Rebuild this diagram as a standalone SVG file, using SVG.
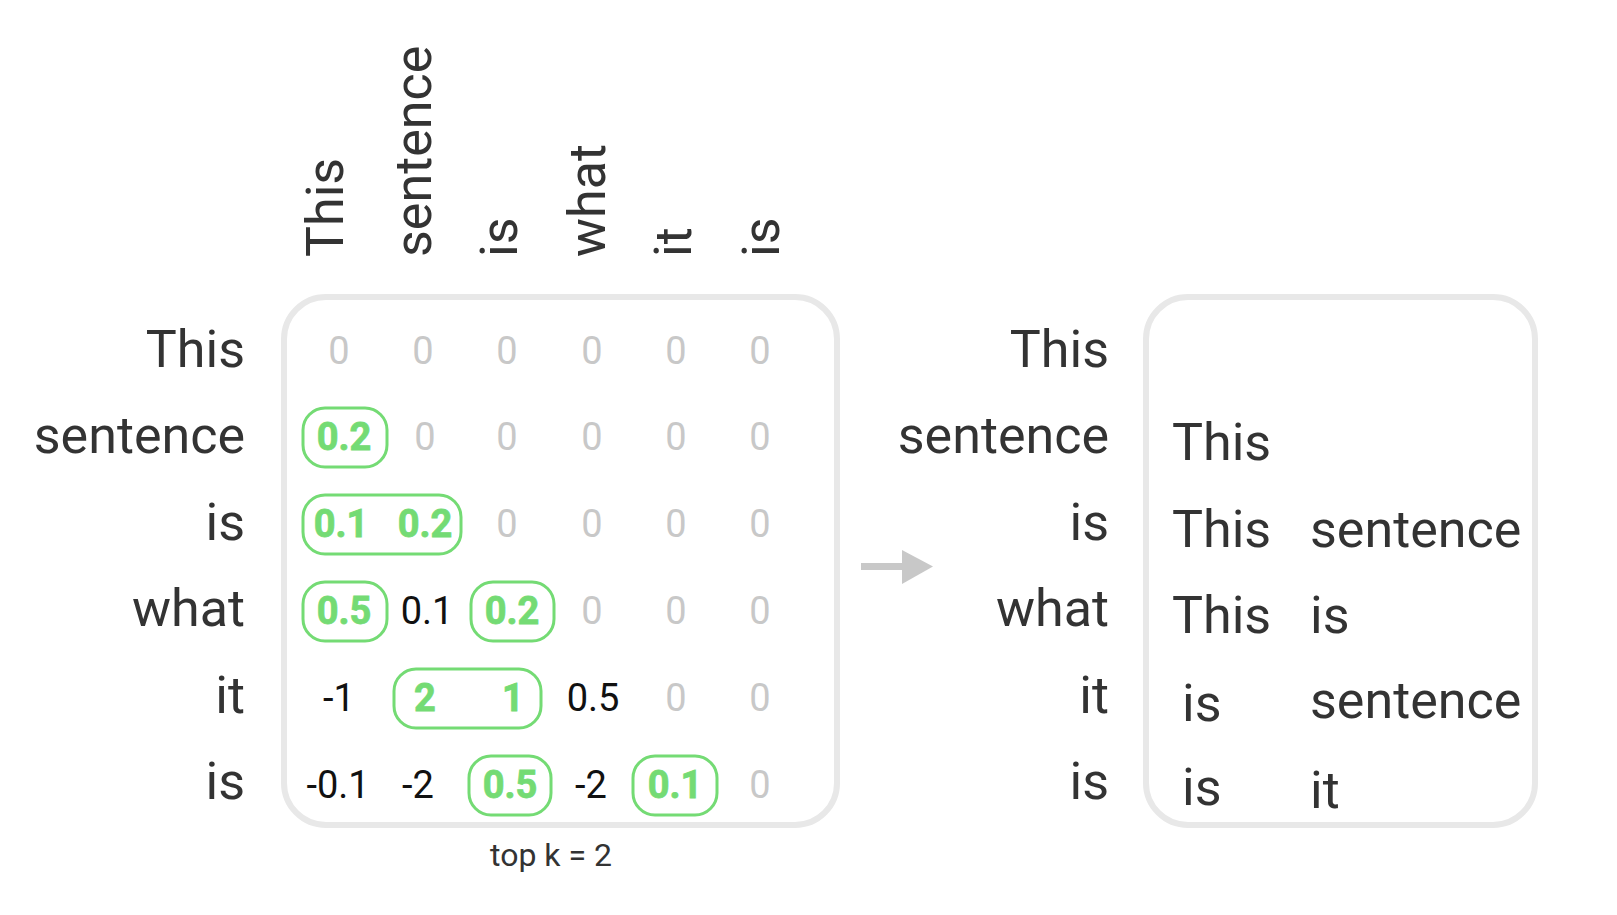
<svg xmlns="http://www.w3.org/2000/svg" width="1617" height="915" viewBox="0 0 1617 915">
<style>
.lbl{font-family:Roboto,"Liberation Sans",sans-serif;font-size:52px;fill:#333333}
.lblr{font-family:Roboto,"Liberation Sans",sans-serif;font-size:52px;fill:#333333;text-anchor:end}
.num{font-family:Roboto,"Liberation Sans",sans-serif;font-size:38px;text-anchor:middle}
.z{fill:#c8c8c8}
.k{fill:#111111}
.g{fill:#74db74;font-weight:bold;stroke:#74db74;stroke-width:0.8}
.pill{fill:none;stroke:#74db74;stroke-width:3}
.box{fill:#ffffff;stroke:#e8e8e8;stroke-width:6}
.cap{font-family:Roboto,"Liberation Sans",sans-serif;font-size:32px;fill:#333333;text-anchor:middle}
</style>
<rect width="1617" height="915" fill="#ffffff"/>
<g id="column-headers">
<text class="lbl" transform="translate(343,257) rotate(-90)">This</text>
<text class="lbl" transform="translate(431,257) rotate(-90)">sentence</text>
<text class="lbl" transform="translate(517,257) rotate(-90)">is</text>
<text class="lbl" transform="translate(605,257) rotate(-90)">what</text>
<text class="lbl" transform="translate(691,257) rotate(-90)">it</text>
<text class="lbl" transform="translate(779,257) rotate(-90)">is</text>
</g>
<g id="row-labels-left">
<text class="lblr" x="245" y="367">This</text>
<text class="lblr" x="245" y="453">sentence</text>
<text class="lblr" x="245" y="540">is</text>
<text class="lblr" x="245" y="626">what</text>
<text class="lblr" x="245" y="713">it</text>
<text class="lblr" x="245" y="799">is</text>
</g>
<g id="score-matrix">
<rect class="box" x="284" y="297" width="553" height="528" rx="42"/>
<rect class="pill" x="303" y="408" width="84" height="59" rx="22"/>
<rect class="pill" x="303" y="495" width="158" height="59" rx="22"/>
<rect class="pill" x="303" y="582" width="84" height="59" rx="22"/>
<rect class="pill" x="471" y="582" width="83" height="59" rx="22"/>
<rect class="pill" x="394" y="669" width="147" height="59" rx="22"/>
<rect class="pill" x="469" y="756" width="82" height="59" rx="22"/>
<rect class="pill" x="633" y="756" width="84" height="59" rx="22"/>
<g class="num">
<text class="z" x="339" y="364">0</text><text class="z" x="423" y="364">0</text><text class="z" x="507" y="364">0</text><text class="z" x="592" y="364">0</text><text class="z" x="676" y="364">0</text><text class="z" x="760" y="364">0</text>
<text class="g" x="344" y="450">0.2</text><text class="z" x="425" y="450">0</text><text class="z" x="507" y="450">0</text><text class="z" x="592" y="450">0</text><text class="z" x="676" y="450">0</text><text class="z" x="760" y="450">0</text>
<text class="g" x="341" y="537">0.1</text><text class="g" x="425" y="537">0.2</text><text class="z" x="507" y="537">0</text><text class="z" x="592" y="537">0</text><text class="z" x="676" y="537">0</text><text class="z" x="760" y="537">0</text>
<text class="g" x="344" y="624">0.5</text><text class="k" x="427" y="624">0.1</text><text class="g" x="512" y="624">0.2</text><text class="z" x="592" y="624">0</text><text class="z" x="676" y="624">0</text><text class="z" x="760" y="624">0</text>
<text class="k" x="339" y="711">-1</text><text class="g" x="425" y="711">2</text><text class="g" x="513" y="711">1</text><text class="k" x="593" y="711">0.5</text><text class="z" x="676" y="711">0</text><text class="z" x="760" y="711">0</text>
<text class="k" x="338" y="798">-0.1</text><text class="k" x="418" y="798">-2</text><text class="g" x="510" y="798">0.5</text><text class="k" x="591" y="798">-2</text><text class="g" x="675" y="798">0.1</text><text class="z" x="760" y="798">0</text>
</g>
<text class="cap" x="551" y="866">top k = 2</text>
</g>
<g id="connectors">
<line x1="861" y1="566.5" x2="905" y2="566.5" stroke="#c8c8c8" stroke-width="7"/>
<polygon points="902,550 933,566.5 902,584" fill="#c8c8c8"/>
</g>
<g id="row-labels-right">
<text class="lblr" x="1109" y="367">This</text>
<text class="lblr" x="1109" y="453">sentence</text>
<text class="lblr" x="1109" y="540">is</text>
<text class="lblr" x="1109" y="626">what</text>
<text class="lblr" x="1109" y="713">it</text>
<text class="lblr" x="1109" y="799">is</text>
</g>
<g id="selected-tokens">
<rect class="box" x="1146" y="297" width="389" height="528" rx="42"/>
<text class="lbl" x="1172" y="460">This</text>
<text class="lbl" x="1172" y="547">This</text>
<text class="lbl" x="1310" y="547">sentence</text>
<text class="lbl" x="1172" y="633">This</text>
<text class="lbl" x="1310" y="633">is</text>
<text class="lbl" x="1182" y="721">is</text>
<text class="lbl" x="1310" y="718">sentence</text>
<text class="lbl" x="1182" y="805">is</text>
<text class="lbl" x="1310" y="808">it</text>
</g>
</svg>
